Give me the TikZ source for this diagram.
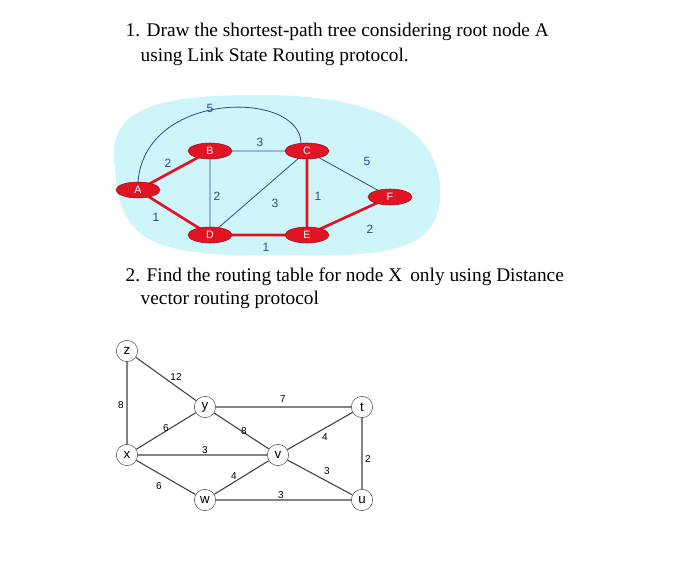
\documentclass[tikz,border=0pt]{standalone}
\usepackage{fontspec}
\setmainfont{Liberation Serif}
\newfontfamily\lab{Liberation Sans}
\usetikzlibrary{shapes.geometric}
\definecolor{rred}{RGB}{225,20,35}
\definecolor{lblue}{RGB}{55,70,140}
\definecolor{blob}{RGB}{205,245,250}
\begin{document}
\begin{tikzpicture}[x=0.75pt,y=-0.75pt,
 router/.style={ellipse,fill=rred,draw=rred!70!black,minimum width=33pt,minimum height=12pt,inner sep=0pt,text=white,font=\lab\fontsize{8}{8}\selectfont},
 thin/.style={draw=lblue,line width=0.6pt},
 tree/.style={draw=rred,line width=2pt},
 tl/.style={text=lblue,font=\lab\fontsize{9}{9}\selectfont},
 vert/.style={circle,draw=black!70,fill=white,minimum size=16pt,inner sep=0pt,font=\lab\fontsize{10}{10}\selectfont},
 bl/.style={font=\lab\fontsize{7.5}{7.5}\selectfont},
 ed/.style={draw=black!75,line width=0.8pt},
 q/.style={anchor=west,font=\fontsize{14.5}{17}\selectfont}]
\useasboundingbox (0,0) rectangle (700,584);
\node[q] (t1) at (121,32) {1. Draw the shortest-path tree considering root node A};
\node[q] (t1b) at (136,57) {using Link State Routing protocol.};
\node[q] (t2) at (121,277) {2. Find the routing table for node X\, only using Distance};
\node[q] (t2b) at (136,300) {vector routing protocol};
\fill[blob] (115,170) .. controls (105,110) and (150,95) .. (260,95) .. controls (380,95) and (445,130) .. (440,200) .. controls (435,250) and (390,258) .. (280,255) .. controls (150,258) and (120,240) .. (115,170) -- cycle;
\coordinate (ta) at (138,182); \coordinate (tc) at (301,143);
\draw[thin] (ta) .. controls (145,90) and (300,90) .. (tc);
\coordinate (A0) at (138,190); \coordinate (B0) at (210,151); \coordinate (C0) at (307,151);
\coordinate (D0) at (210,235); \coordinate (E0) at (307,235); \coordinate (F0) at (390,197);
\draw[thin] (B0)--(C0) (B0)--(D0) (C0)--(D0) (C0)--(F0);
\draw[tree] (A0)--(B0) (A0)--(D0) (D0)--(E0) (C0)--(E0) (E0)--(F0);
\node[router] (A) at (A0) {A};
\node[router] (B) at (B0) {B};
\node[router] (C) at (C0) {C};
\node[router] (D) at (D0) {D};
\node[router] (E) at (E0) {E};
\node[router] (F) at (F0) {F};
\node[tl] (l1) at (210,108) {5};
\node[tl] (l2) at (168,163) {2};
\node[tl] (l3) at (260,142) {3};
\node[tl] (l4) at (367,161) {5};
\node[tl] (l5) at (217,196) {2};
\node[tl] (l6) at (275,203) {3};
\node[tl] (l7) at (318,196) {1};
\node[tl] (l8) at (156,217) {1};
\node[tl] (l9) at (266,247) {1};
\node[tl] (l10) at (370,229) {2};
\node[vert] (z) at (127,351) {z};
\node[vert] (y) at (205,407) {y};
\node[vert] (t) at (362,407) {t};
\node[vert] (x) at (127,455) {x};
\node[vert] (v) at (278,455) {v};
\node[vert] (w) at (205,500) {w};
\node[vert] (u) at (362,500) {u};
\draw[ed] (z)--(y) (z)--(x) (y)--(t) (x)--(y) (y)--(v) (t)--(v) (x)--(v) (t)--(u) (x)--(w) (w)--(v) (v)--(u) (w)--(u);
\node[bl] (m1) at (176,377) {12};
\node[bl] (m2) at (121,405) {8};
\node[bl] (m3) at (283,399) {7};
\node[bl] (m4) at (166,428) {6};
\node[bl] (m5) at (244,431) {8};
\node[bl] (m6) at (325,437) {4};
\node[bl] (m7) at (205,450) {3};
\node[bl] (m8) at (368,459) {2};
\node[bl] (m9) at (234,476) {4};
\node[bl] (m10) at (327,471) {3};
\node[bl] (m11) at (159,486) {6};
\node[bl] (m12) at (281,495) {3};
\end{tikzpicture}
\end{document}
